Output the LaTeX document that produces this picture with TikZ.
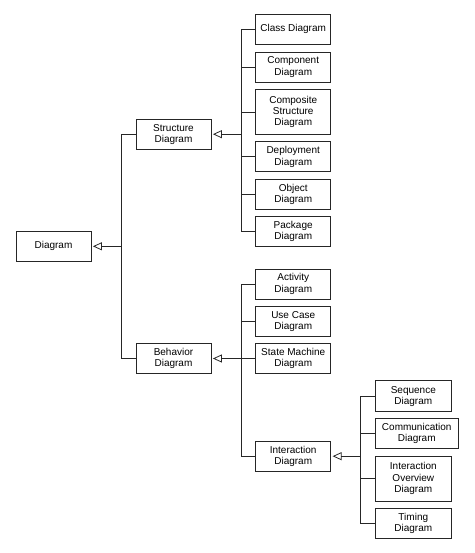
\documentclass[tikz,border=0pt]{standalone}
\usepackage{fontspec}
\setmainfont{Liberation Sans}
\usetikzlibrary{arrows.meta}
\begin{document}
\begin{tikzpicture}[x=1pt,y=-1pt,
  box/.style={draw=black!85,line width=0.8pt,fill=white,minimum width=75pt,minimum height=30pt,
    inner sep=1pt,align=center,font=\fontsize{10}{11.3}\selectfont},
  tall/.style={box,minimum height=45pt},
  wire/.style={draw=black!85,line width=0.8pt},
  gen/.style={wire,-{Triangle[open,length=9pt,width=8pt]},shorten >=1.5pt}]
\useasboundingbox (0,0) rectangle (474,553);
% nodes
\node[box] (diag) at (53.5,246.3) {Diagram};
\node[box] (struct) at (173.5,134.2) {Structure\\Diagram};
\node[box] (behav) at (173.5,358.5) {Behavior\\Diagram};
\node[box] (class) at (293.2,29.3) {Class Diagram};
\node[box] (comp) at (293.2,67) {Component\\Diagram};
\node[tall] (compo) at (293.2,112) {Composite\\Structure\\Diagram};
\node[box] (deploy) at (293.2,156.9) {Deployment\\Diagram};
\node[box] (object) at (293.2,194.2) {Object\\Diagram};
\node[box] (package) at (293.2,231.7) {Package\\Diagram};
\node[box] (activity) at (293.2,283.9) {Activity\\Diagram};
\node[box] (usecase) at (293.2,321.3) {Use Case\\Diagram};
\node[box] (state) at (293.2,358.5) {State Machine\\Diagram};
\node[box] (inter) at (293.2,456.2) {Interaction\\Diagram};
\node[box,minimum width=76pt,minimum height=31pt] (seq) at (413.3,396.2) {Sequence\\Diagram};
\node[box,minimum width=82.7pt] (commu) at (416.7,433.7) {Communication\\Diagram};
\node[tall,minimum width=76pt] (iov) at (413.3,478.5) {Interaction\\Overview\\Diagram};
\node[box,minimum width=76pt] (timing) at (413.3,523.3) {Timing\\Diagram};
% bus coordinates
\coordinate (dbus) at (121.7,246.3);
\coordinate (sbus) at (241,134.2);
\coordinate (bbus) at (241.5,358.5);
\coordinate (ibus) at (360,456.2);
% structure
\foreach \c in {class,comp,compo,deploy,object,package}
  \draw[wire] (\c.west) -| (sbus);
\draw[gen] (sbus) -- (struct.east);
% behavior
\foreach \c in {activity,usecase,state,inter}
  \draw[wire] (\c.west) -| (bbus);
\draw[gen] (bbus) -- (behav.east);
% interaction
\foreach \c in {seq,commu,iov,timing}
  \draw[wire] (\c.west) -| (ibus);
\draw[gen] (ibus) -- (inter.east);
% diagram
\draw[wire] (struct.west) -| (dbus);
\draw[wire] (behav.west) -| (dbus);
\draw[gen] (dbus) -- (diag.east);
\end{tikzpicture}
\end{document}
